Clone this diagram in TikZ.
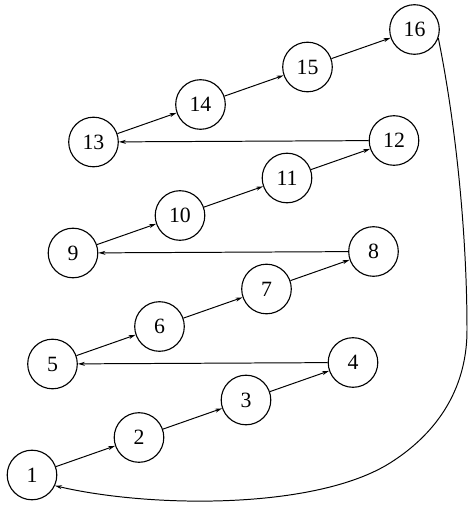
\documentclass[tikz,border=0pt]{standalone}
\usepackage{fontspec}
\setmainfont{Liberation Serif}
\usetikzlibrary{arrows.meta}
\begin{document}
\begin{tikzpicture}[scale=1.0,
        estado/.style={circle,draw,line width=0.8pt,minimum size=1.24cm,inner sep=0pt,font=\fontsize{15.5}{18}\selectfont},
        >={Stealth[length=5pt,width=2.8pt]}]
        \useasboundingbox (0,0) rectangle (11.85,12.775);
        % nodos, cuatro filas de cuatro
        \foreach \f in {0,...,3}
        \foreach \c in {1,...,4}
        {
        \pgfmathtruncatemacro{\n}{4*\f+\c}
        \node[estado] (n\n) at ({0.8+0.5125*\f+2.675*(\c-1)},{0.9+2.775*\f+0.9375*(\c-1)}) {\n};
        }
        % flechas de cada nodo al siguiente
        \foreach \a in {1,...,15}
        {
        \pgfmathtruncatemacro{\b}{\a+1}
        \draw[line width=0.7pt,->] (n\a) -- (n\b);
        }
        % vuelta de 16 a 1
        \draw[line width=0.7pt,->] (n16.-20) .. controls (11.375,9.775) and (11.675,7.025) .. (11.675,4.525)
        .. controls (11.675,2.775) and (10.625,1.75) .. (9.75,1.2)
        .. controls (7.875,0.025) and (3.75,0.075) .. (n1.-25);
\end{tikzpicture}
\end{document}
